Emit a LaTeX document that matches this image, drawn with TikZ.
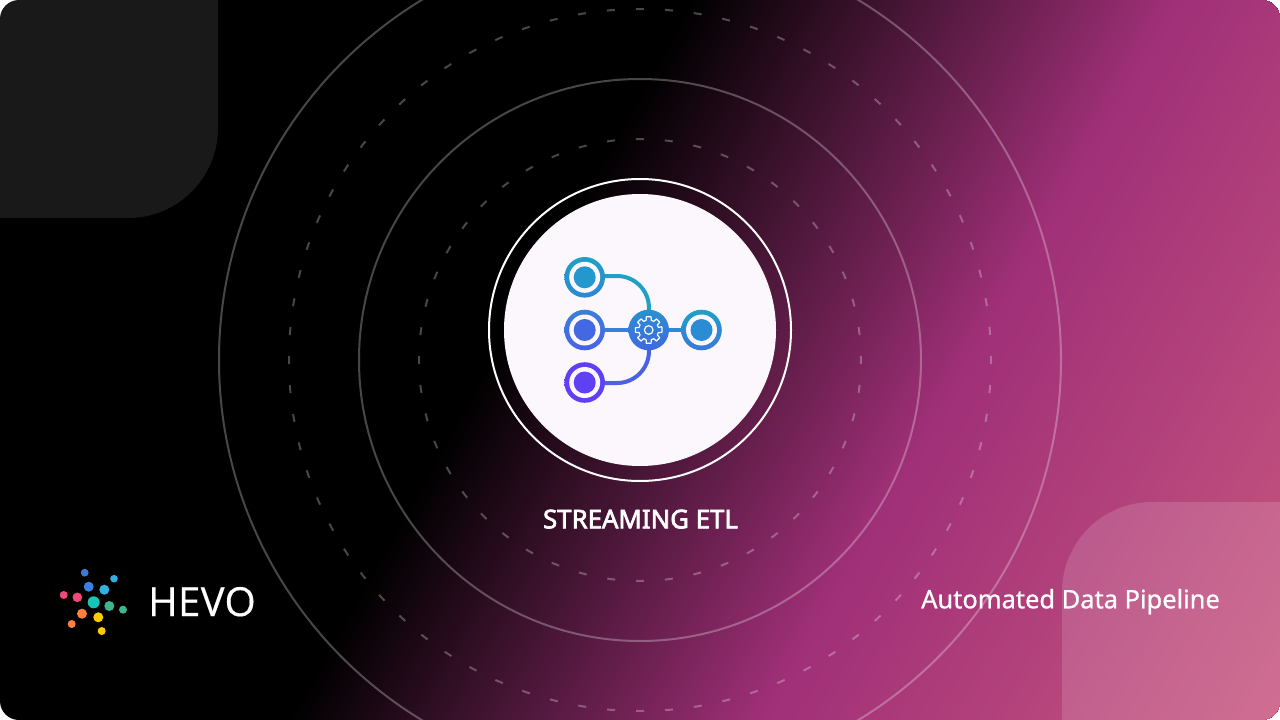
\documentclass[tikz,border=0pt]{standalone}
\usepackage{fontspec}
\setmainfont{Noto Sans}
\newfontfamily\logofont[LetterSpace=1,FakeBold=0.4]{Open Sans}
\newfontfamily\semifont[FakeBold=2.6]{Noto Sans}
\newfontfamily\medfont[FakeBold=0.8]{Noto Sans}
\usetikzlibrary{calc}
\definecolor{cardbg}{HTML}{FBF7FD}
\tikzset{
  orbit/.style={draw=white,draw opacity=.28,line width=2pt},
  dashorbit/.style={draw=white,draw opacity=.28,line width=2pt,dash pattern=on 8pt off #1,dash phase=4pt},
  dotn/.style={circle,inner sep=0pt,minimum size=#1,fill=dotc},
  disc/.style={circle,inner sep=0pt,minimum size=40.6pt},
  ringw/.style={circle,inner sep=0pt,minimum size=31pt,fill=cardbg},
  link/.style={line width=4pt},
  caption/.style={text=white,inner sep=0pt},
}
\newcommand{\dotat}[5]{\definecolor{dotc}{HTML}{#4}\node[dotn=#3*2pt] (#5) at (#1,#2) {};}
\newcommand{\iconnode}[6]{% name,x,y,top,bottom,inner
  \node[disc,top color=#4,bottom color=#5] (#1) at (#2,#3) {};
  \node[ringw] at (#1) {};
  \node[circle,inner sep=0pt,minimum size=22pt,fill=#6] at (#1) {};}
\begin{document}
\begin{tikzpicture}[x=1pt,y=-1pt]
\useasboundingbox (0,0) rectangle (1280,720);
\fill[white] (0,0) rectangle (1280,720);
\begin{scope}
\clip[rounded corners=19pt] (0,0) rectangle (1280,720);
\fill[black] (0,0) rectangle (1280,720);
% background gradient, painted as overlapping bands
\foreach \i in {0,...,120}{
  \pgfmathsetmacro\w{\i/120}
  \pgfmathsetmacro\xt{690+485*\w}
  \pgfmathsetmacro\xb{287+473*\w}
  \definecolor{bandc}{rgb}{\fpeval{0.627*\w},\fpeval{0.188*\w},\fpeval{0.470*\w}}
  \fill[bandc] (\xt,0) -- (\xb,720) -- (1280,720) -- (1280,0) -- cycle;
}
\foreach \i in {1,...,60}{
  \pgfmathsetmacro\u{\i/60}
  \pgfmathsetmacro\xt{1175+520*\u}
  \pgfmathsetmacro\xb{760+520*\u}
  \definecolor{bandc}{rgb}{\fpeval{0.627+0.161*\u},\fpeval{0.188+0.157*\u},\fpeval{0.470+0.03*\u}}
  \fill[bandc] (\xt,0) -- (\xb,720) -- (1700,720) -- (1700,0) -- cycle;
}
% corner panels
\fill[white,fill opacity=.098] (0,0) -- (218,0) -- (218,128) arc[start angle=0,end angle=90,radius=90] -- (0,218) -- cycle;
\fill[white,fill opacity=.14] (1280,502) -- (1152,502) arc[start angle=-90,end angle=-180,radius=90] -- (1062,720) -- (1280,720) -- cycle;
% orbits
\draw[orbit] (640,360) circle[radius=421];
\draw[orbit] (640,360) circle[radius=281];
\draw[dashorbit=21.02pt] (640,360) circle[radius=351];
\draw[dashorbit=20.93pt] (640,360) circle[radius=221];
\end{scope}
% central badge
\node[circle,inner sep=0pt,minimum size=302pt,draw=white,line width=2pt] (halo) at (640,330) {};
\node[circle,inner sep=0pt,minimum size=272pt,fill=cardbg] (badge) at (640,330) {};
% icon
\definecolor{ca}{HTML}{1FA0C6}\definecolor{cb}{HTML}{2D88D2}\definecolor{cc}{HTML}{2398CC}
\definecolor{cd}{HTML}{3A80D8}\definecolor{ce}{HTML}{4A60E8}\definecolor{cf}{HTML}{4468E4}
\definecolor{cg}{HTML}{5F40F5}\definecolor{ch}{HTML}{3A78DC}\definecolor{ci}{HTML}{2A8CD4}
\definecolor{cj}{HTML}{2A90D0}\definecolor{ck}{HTML}{4068E0}
\coordinate (ta) at (584.7,276);
\coordinate (tb) at (584.7,330);
\coordinate (tc) at (584.7,383);
\coordinate (hub) at (648.7,330);
\coordinate (out) at (701.5,330);
\draw[link,color=ca] (ta) -- (617,276) arc[start angle=-90,end angle=0,radius=32] -- (hub);
\draw[link,color=cd] (tb) -- (hub);
\draw[link,color=ci] (hub) -- (out);
\draw[link,color=ce] (hub) -- (649,351) arc[start angle=0,end angle=90,radius=32] -- (tc);
\iconnode{ia}{584.7}{277.3}{ca}{cb}{cc}
\iconnode{ib}{584.7}{330}{cd}{ce}{cf}
\iconnode{ic}{584.7}{382.5}{cg}{cg}{cg}
\iconnode{io}{701.5}{330}{ca}{ch}{ci}
\node[circle,inner sep=0pt,minimum size=40.6pt,top color=cj,bottom color=ck] (ih) at (648.7,330) {};
% gear
\draw[white,line width=1.2pt,line join=round]
  ($(ih)+(-14:13.5)$)
  \foreach \a in {0,45,...,315}{
    -- ($(ih)+(\a-10:13.5)$) -- ($(ih)+(\a+10:13.5)$) -- ($(ih)+(\a+15:10)$) -- ($(ih)+(\a+30:10)$)
  } -- cycle;
\draw[white,line width=1.2pt] (ih) circle[radius=4.3];
% logo
\dotat{84.7}{572.7}{3.9}{3A7BD5}{d1}
\dotat{114}{578.7}{3.8}{2FB0E0}{d2}
\dotat{88.7}{586.7}{5}{3A80DC}{d3}
\dotat{104.3}{589.7}{5}{2FB4E0}{d4}
\dotat{63.7}{595}{4}{EF4A7B}{d5}
\dotat{77.3}{597.3}{4.8}{EF4A7B}{d6}
\dotat{93.7}{602.3}{6}{16C4B8}{d7}
\dotat{109.3}{606}{5}{3FB58F}{d8}
\dotat{123}{609.7}{4}{3FB58F}{d9}
\dotat{82}{613.7}{5}{FF8040}{d10}
\dotat{98.3}{617.3}{5}{FFCC00}{d11}
\dotat{71.7}{624}{4}{FF8040}{d12}
\dotat{101.7}{631}{4}{FFCC00}{d13}
\node[caption,anchor=base west,font=\logofont\fontsize{40}{40}\selectfont] (hevo) at (148,616) {HEVO};
\node[caption,anchor=base,font=\semifont\fontsize{25.8}{26}\selectfont] (title) at (640.5,528.3) {STREAMING ETL};
\node[caption,anchor=base east,font=\medfont\fontsize{25.45}{26}\selectfont] (tag) at (1220,608.3) {Automated Data Pipeline};
\end{tikzpicture}
\end{document}
